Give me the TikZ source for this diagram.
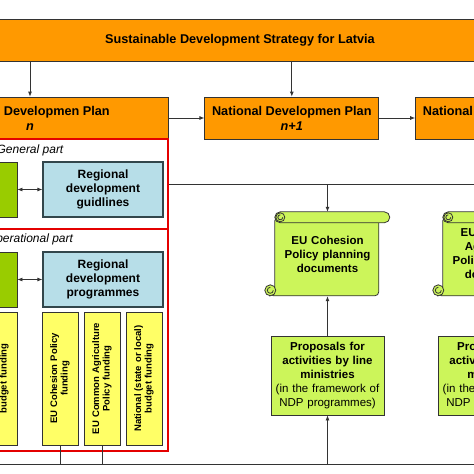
\documentclass[tikz,border=0pt]{standalone}
\usepackage{fontspec}
\setmainfont{Liberation Sans}
\usetikzlibrary{arrows.meta, positioning, calc, backgrounds}
\usepackage{xcolor}
\definecolor{planorange}{RGB}{255,153,0}
\definecolor{partgreen}{RGB}{153,204,0}
\definecolor{guideblue}{RGB}{183,222,232}
\definecolor{fundyellow}{RGB}{255,255,102}
\definecolor{eulime}{RGB}{204,245,90}
\definecolor{edgegray}{RGB}{51,51,51}
\definecolor{edgeteal}{RGB}{50,70,75}
\definecolor{framered}{RGB}{228,0,0}

% scroll drawn behind a node
\newcommand{\scrollpaper}[1]{%
  \begin{scope}[on background layer]
  \begin{scope}[shift={(#1.north west)}, draw=edgegray, fill=eulime, line width=0.8pt]
    % sheet
    \filldraw[rounded corners=4pt] (10,5) -- (10,80) -- (5,84) -- (114,84) -- (114,5) -- cycle;
    % top roll
    \filldraw[rounded corners=5.5pt] (10,0) rectangle (125,11);
    \filldraw (15.5,5.5) circle[radius=4.5];
    \draw (18,5.5) arc[start angle=0, end angle=270, radius=2.5];
    % bottom roll
    \filldraw (5.5,78.5) circle[radius=5.5];
    \draw (8.5,78.5) arc[start angle=0, end angle=270, radius=3];
  \end{scope}
  \end{scope}}

\begin{document}
\begin{tikzpicture}[x=1pt, y=-1pt,
    box/.style={draw=edgegray, line width=0.8pt, align=center, inner sep=2pt},
    planbox/.style={box, fill=planorange, minimum height=42pt, font=\fontsize{12.7}{15}\selectfont\bfseries},
    partframe/.style={draw=framered, line width=1.6pt, minimum width=276pt, inner sep=0pt},
    partlabel/.style={font=\fontsize{12}{14}\selectfont\itshape, inner sep=2pt},
    greenbox/.style={box, fill=partgreen, minimum width=120pt, minimum height=55pt},
    guidebox/.style={box, fill=guideblue, draw=edgeteal, line width=1.2pt, minimum width=120pt, minimum height=55pt, font=\fontsize{12}{14}\selectfont\bfseries},
    fundbox/.style={box, fill=fundyellow, rotate=90, minimum width=133pt, minimum height=36pt, text width=124pt, font=\fontsize{9.5}{10.5}\selectfont\bfseries},
    scrollnode/.style={align=center, minimum width=125pt, minimum height=84pt, text width=100pt, inner sep=0pt, font=\fontsize{11.5}{14}\selectfont\bfseries},
    eubox/.style={box, fill=eulime, minimum width=113pt, minimum height=79pt, text width=109pt, font=\fontsize{11.5}{14}\selectfont},
    link/.style={draw=edgegray, line width=0.8pt},
    arrow/.style={link, -{Latex[length=5pt, width=4pt]}},
    biarrow/.style={link, {Latex[length=5pt, width=4pt]}-{Latex[length=5pt, width=4pt]}}]

  \useasboundingbox (0,0) rectangle (474,474);
  \clip (0,0) rectangle (474,474);

  % strategy and plans
  \node[planbox, minimum width=540pt] (sdsl) at (240,40) {Sustainable Development Strategy for Latvia};
  \node[planbox, minimum width=276pt] (ndp0) at (30,118) {National Developmen Plan\\\textit{n}};
  \node[planbox, minimum width=174pt, right=36pt of ndp0] (ndp1) {National Developmen Plan\\\textit{n+1}};
  \node[planbox, minimum width=174pt, right=36pt of ndp1] (ndp2) {National Developmen Plan\\\textit{n+2}};

  % parts of the plan
  \node[partframe, minimum height=90pt] (genpart) at (30,184) {};
  \node[partframe, minimum height=222pt] (oppart) at (30,340) {};
  \node[partlabel, below=4pt of genpart.north] (genlabel) {General part};
  \node[partlabel, below=3pt of oppart.north] (oplabel) {Operational part};

  \node[greenbox] (gengreen) at (-43,189.5) {};
  \node[guidebox, right=25pt of gengreen] (guide) {Regional\\development\\guidlines};
  \node[greenbox] (opgreen) at (-43,279.5) {};
  \node[guidebox, right=25pt of opgreen] (programme) {Regional\\development\\programmes};

  % funding
  \foreach \x/\name/\txt in {-1/fund0/{National (state or local)\\budget funding},
      60/fund1/{EU Cohesion Policy\\funding},
      102/fund2/{EU Common Agriculture\\Policy funding},
      144/fund3/{National (state or local)\\budget funding}}
    \node[fundbox] (\name) at (\x,378.5) {\txt};

  % EU documents
  \node[scrollnode] (cohdoc) at (327.5,254) {EU Cohesion\\Policy planning\\documents};
  \node[scrollnode] (agrdoc) at (495.5,254) {EU Common\\Agriculture\\Policy planning\\documents};
  \scrollpaper{cohdoc}
  \scrollpaper{agrdoc}

  \node[eubox] (cohprop) at (327.5,375.5) {\textbf{Proposals for}\\\textbf{activities by line}\\\textbf{ministries}\\(in the framework of\\NDP programmes)};
  \node[eubox] (agrprop) at (494.5,375.5) {\textbf{Proposals for}\\\textbf{activities by line}\\\textbf{ministries}\\(in the framework of\\NDP programmes)};

  % connectors
  \coordinate (busL) at (0,464);
  \coordinate (busR) at (474,464);
  \foreach \n in {ndp0, ndp1, ndp2}
    \draw[arrow] (sdsl.south -| \n) -- (\n.north);
  \draw[arrow] (ndp0) -- (ndp1);
  \draw[arrow] (ndp1) -- (ndp2);
  \draw[biarrow] (gengreen) -- (guide);
  \draw[biarrow] (opgreen) -- (programme);
  \draw[link] (genpart.east) -- (genpart.east -| busR);
  \foreach \n in {cohdoc, agrdoc}
    \draw[arrow] (genpart.east -| \n) -- (\n.north);
  \draw[arrow] (cohprop.north) -- (cohdoc.south);
  \draw[arrow] (agrprop.north) -- (agrdoc.south);
  \draw[link] (busL) -- (busR);
  \foreach \n in {cohprop, agrprop}
    \draw[arrow] (\n.south |- busL) -- (\n.south);
  \foreach \n in {fund1, fund2}
    \draw[link] (\n.west) -- (\n.west |- busL);
\end{tikzpicture}
\end{document}
